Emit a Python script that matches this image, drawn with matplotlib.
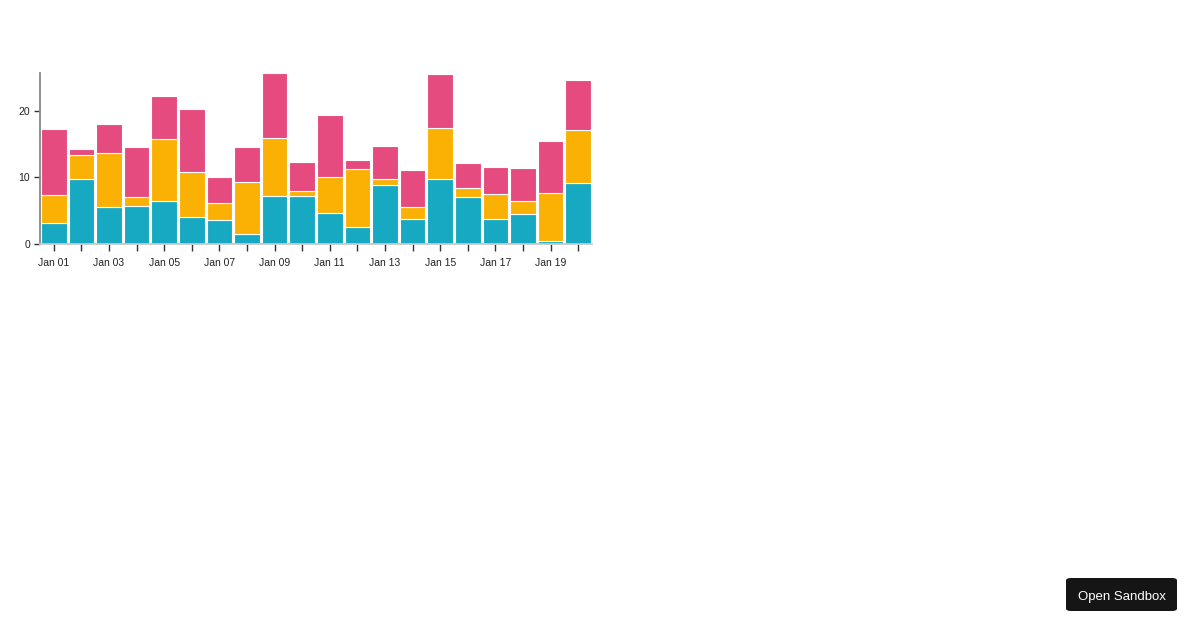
import numpy as np
import matplotlib.pyplot as plt
from matplotlib.patches import FancyBboxPatch

plt.rcParams["font.family"] = ["Liberation Sans", "DejaVu Sans"]

DAYS = [f"Jan {d:02d}" for d in range(1, 21)]
# stacked segments, bottom to top
TEAL = [3.17, 9.70, 5.48, 5.73, 6.38, 3.97, 3.62, 1.41, 7.14, 7.14,
        4.62, 2.51, 8.79, 3.67, 9.70, 6.98, 3.67, 4.52, 0.45, 9.15]
ORANGE = [4.17, 3.62, 8.14, 1.25, 9.45, 6.78, 2.46, 7.84, 8.74, 0.85,
          5.43, 8.80, 0.96, 1.81, 7.69, 1.41, 3.77, 1.86, 7.19, 7.94]
PINK = [9.95, 0.90, 4.47, 7.59, 6.48, 9.60, 3.92, 5.32, 9.90, 4.32,
        9.30, 1.30, 5.02, 5.63, 8.14, 3.72, 4.17, 4.98, 7.89, 7.53]

COLORS = ["#17a9c1", "#fbb104", "#e64b80"]

fig = plt.figure(figsize=(12, 6.3), dpi=100)
ax = fig.add_axes([40 / 1200, 1 - 243.7 / 630, 552 / 1200, 171 / 630])

x = np.arange(len(DAYS))
bottom = np.zeros(len(DAYS))
for vals, c in zip([TEAL, ORANGE, PINK], COLORS):
    ax.bar(x, vals, width=0.93, bottom=bottom, color=c,
           edgecolor="white", linewidth=0.8, zorder=2)
    bottom += np.array(vals)

ax.set_xlim(-0.5, len(DAYS) - 0.5)
ax.set_ylim(0, bottom.max())

ax.set_xticks(x)
ax.set_xticklabels([d if i % 2 == 0 else "" for i, d in enumerate(DAYS)])
ax.set_yticks([0, 10, 20])

for s in ["top", "right"]:
    ax.spines[s].set_visible(False)
ax.spines["left"].set_color("#888888")
ax.spines["left"].set_linewidth(1.3)
ax.spines["bottom"].set_color("#c8c8c8")
ax.spines["bottom"].set_linewidth(1.3)

ax.tick_params(axis="x", length=5, width=1, color="#333333", pad=5,
               labelsize=7.5, labelcolor="#222222")
ax.tick_params(axis="y", length=4.5, width=1, color="#333333", pad=2.5,
               labelsize=7.5, labelcolor="#222222")

# sandbox button
btn = FancyBboxPatch((1066 / 1200, 1 - 611 / 630), 111 / 1200, 33 / 630,
                     boxstyle="round,pad=0,rounding_size=0.004",
                     transform=fig.transFigure, facecolor="#151515",
                     edgecolor="none")
fig.patches.append(btn)
fig.text(1121.5 / 1200, 1 - 595.5 / 630, "Open Sandbox", color="white",
         fontsize=9.5, ha="center", va="center_baseline")

fig.savefig("out.png", dpi=100)
